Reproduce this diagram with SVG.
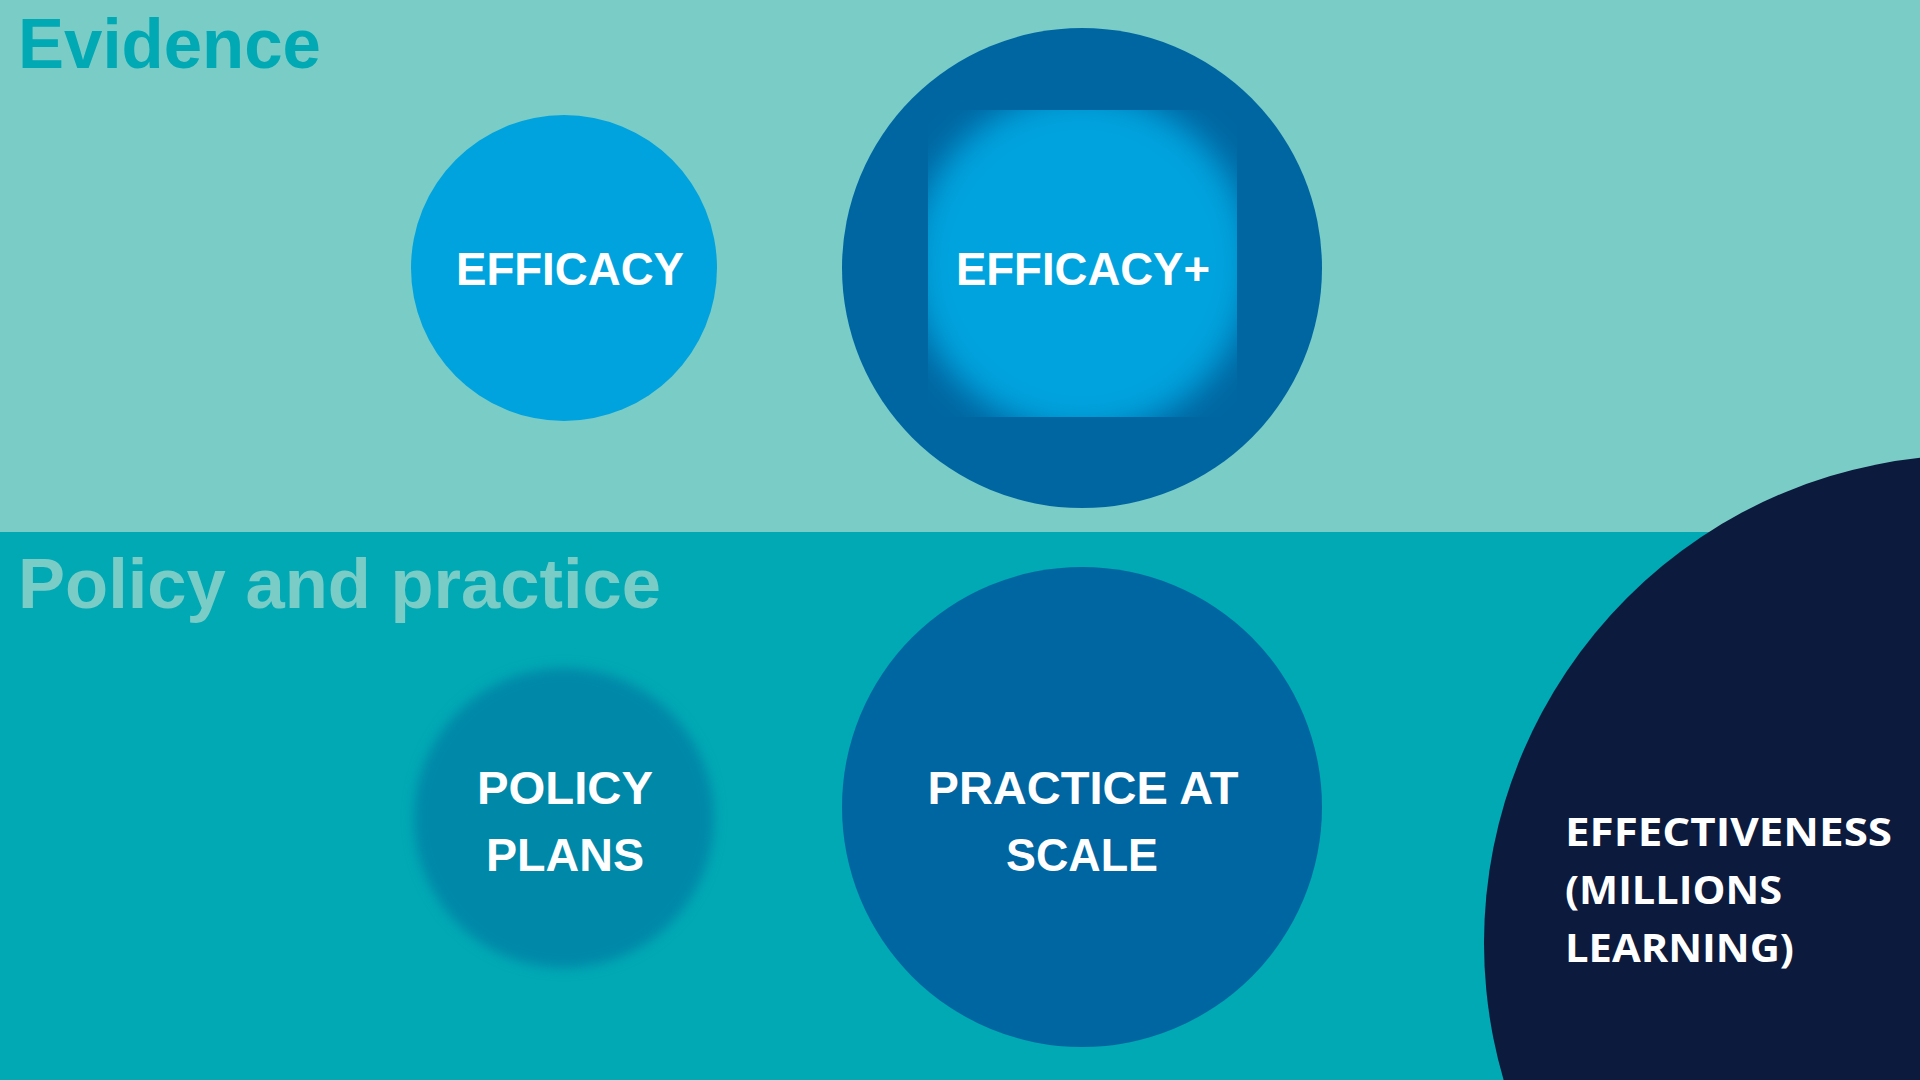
<svg xmlns="http://www.w3.org/2000/svg" width="1920" height="1080" viewBox="0 0 1920 1080">
  <style>
    .heading { font-family: "Liberation Sans", Arial, sans-serif; font-weight: bold; font-size: 70px; }
    .label { font-family: "Liberation Sans", Arial, sans-serif; font-weight: bold; font-size: 46px; fill: #ffffff; text-anchor: middle; }
    .label2 { font-family: "Open Sans", "Liberation Sans", sans-serif; font-weight: bold; font-size: 40px; fill: #ffffff; }
  </style>
  <defs>
    <filter id="softEdge" x="-10%" y="-10%" width="120%" height="120%">
      <feGaussianBlur stdDeviation="6"/>
    </filter>
    <filter id="innerBlur" x="-20%" y="-20%" width="140%" height="140%">
      <feGaussianBlur stdDeviation="16"/>
    </filter>
    <clipPath id="innerClip">
      <rect x="928" y="110" width="309" height="307"/>
    </clipPath>
  </defs>

  <!-- background bands -->
  <rect x="0" y="0" width="1920" height="532" fill="#7ACCC7"/>
  <rect x="0" y="532" width="1920" height="548" fill="#00A9B4"/>

  <g id="heading-evidence">
    <text class="heading" x="18" y="68" fill="#00A9B4" textLength="303" lengthAdjust="spacingAndGlyphs">Evidence</text>
  </g>
  <g id="heading-policy">
    <text class="heading" x="18" y="608" fill="#7ACCC7" textLength="643" lengthAdjust="spacingAndGlyphs">Policy and practice</text>
  </g>

  <g id="connectors"></g>

  <g id="node-efficacy">
    <circle cx="564" cy="268" r="153" fill="#00A3DE"/>
    <text class="label" x="570" y="285" textLength="228" lengthAdjust="spacingAndGlyphs">EFFICACY</text>
  </g>

  <g id="node-efficacy-plus">
    <circle cx="1082" cy="268" r="240" fill="#0066A1"/>
    <g clip-path="url(#innerClip)">
      <circle cx="1082" cy="263" r="170" fill="#00A3DE" filter="url(#innerBlur)"/>
    </g>
    <text class="label" x="1083" y="285" textLength="254" lengthAdjust="spacingAndGlyphs">EFFICACY+</text>
  </g>

  <g id="node-policy-plans">
    <circle cx="564" cy="818" r="150" fill="#0088A9" filter="url(#softEdge)"/>
    <text class="label" x="565" y="804" textLength="176" lengthAdjust="spacingAndGlyphs">POLICY</text>
    <text class="label" x="565" y="871" textLength="158" lengthAdjust="spacingAndGlyphs">PLANS</text>
  </g>

  <g id="node-practice-at-scale">
    <circle cx="1082" cy="807" r="240" fill="#0066A1"/>
    <text class="label" x="1083" y="804" textLength="311" lengthAdjust="spacingAndGlyphs">PRACTICE AT</text>
    <text class="label" x="1082" y="871" textLength="152" lengthAdjust="spacingAndGlyphs">SCALE</text>
  </g>

  <g id="node-effectiveness">
    <circle cx="1972" cy="943" r="488" fill="#0B1A3D"/>
    <text class="label2" x="1565" y="846" textLength="327" lengthAdjust="spacingAndGlyphs">EFFECTIVENESS</text>
    <text class="label2" x="1565" y="904" textLength="217" lengthAdjust="spacingAndGlyphs">(MILLIONS</text>
    <text class="label2" x="1565" y="962" textLength="229" lengthAdjust="spacingAndGlyphs">LEARNING)</text>
  </g>
</svg>
